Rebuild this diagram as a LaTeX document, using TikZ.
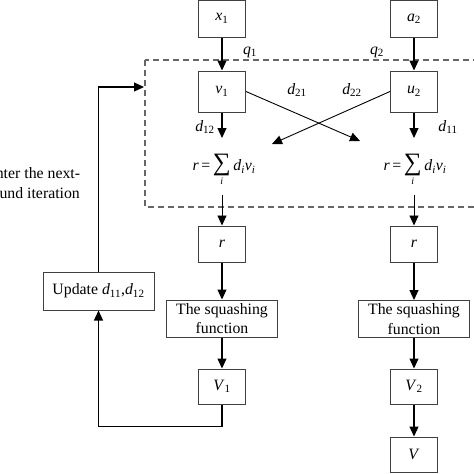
\documentclass[tikz,border=0pt]{standalone}
\usepackage{fix-cm}
\usepackage{fontspec}
\setmainfont{Liberation Serif}
\usetikzlibrary{arrows.meta}

\newcommand{\varsub}[2]{\textit{#1}\textsubscript{#2}}
\newcommand{\sumexpr}{\textit{r}\,=\,$\mathop{\hbox{\fontsize{25}{25}\selectfont\char"2211}}\limits_{\hbox{\itshape\fontsize{10}{10}\selectfont i}}$\,\varsub{d}{\textit{i}}\varsub{v}{\textit{i}}}

\begin{document}
\begin{tikzpicture}[
x=1pt, y=-1pt,
line width=1.2pt,
>={Triangle[length=10pt,width=9pt]},
font=\fontsize{15.8}{19.5}\selectfont,
]
% \draw [help lines] (0,0) grid (474,474);

\tikzset{
	blk/.style={draw=black!75, line width=1pt, minimum width=47pt, minimum height=37pt, inner sep=0pt},
	wide/.style={blk, minimum width=111pt, align=center},
	it/.style={draw=black!60, dash pattern=on 6pt off 4pt, line width=1.2pt},
	fine/.style={->, line width=0.9pt},
}

\clip (0,0) rectangle (474,474);

% iteration loop
\draw[it] (145,60) rectangle (495,207);
\coordinate (in) at (144,87);

\node[blk] (x1) at (222,18.5) {\varsub{x}{1}};
\node[blk] (a2) at (414,18.5) {\varsub{a}{2}};
\node[blk, minimum height=41pt] (v1) at (222,91.5) {\varsub{v}{1}};
\node[blk, minimum height=41pt] (u2) at (414,91.5) {\varsub{u}{2}};
\node (s1) at (224,170) {\sumexpr};
\node (s2) at (415,170) {\sumexpr};
\node[blk, minimum height=36pt] (r1) at (222,244) {\textit{r}};
\node[blk, minimum height=36pt] (r2) at (414,244) {\textit{r}};
\node[wide] (f1) at (222,318.5) {The squashing\\function};
\node[wide] (f2) at (414,319) {The squashing\\function};
\node[blk, minimum height=35pt] (V1) at (222,386.5) {\varsub{V}{1}};
\node[blk, minimum height=35pt] (V2) at (414,386.5) {\varsub{V}{2}};
\node[blk, minimum height=35pt] (V) at (414,454.5) {\textit{V}};
\node[wide, minimum height=38pt] (upd) at (98.5,291) {Update \varsub{d}{11},\varsub{d}{12}};
\node[align=center, anchor=east] (enter) at (84,183) {Enter the next-\\round iteration};

\node (q1) at (250,52) {\varsub{q}{1}};
\node (q2) at (377,52) {\varsub{q}{2}};
\node (d21) at (297,90) {\varsub{d}{21}};
\node (d22) at (352,90) {\varsub{d}{22}};
\node (d12) at (205,127) {\varsub{d}{12}};
\node (d11) at (448,127) {\varsub{d}{11}};

\coordinate (t1) at (222,138);
\coordinate (t2) at (414,138);
\coordinate (c1) at (360,141);
\coordinate (c2) at (272,144);
\coordinate (b1) at (222,195);
\coordinate (b2) at (414,195);

\draw[->] (x1) -- (v1);
\draw[->] (a2) -- (u2);
\draw[->] (v1) -- (t1);
\draw[->] (u2) -- (t2);
\draw[fine] (v1.east) -- (c1);
\draw[fine] (u2.west) -- (c2);
\draw[fine] (b1) -- (r1);
\draw[fine] (b2) -- (r2);
\draw[->] (r1) -- (f1);
\draw[->] (r2) -- (f2);
\draw[->] (f1) -- (V1);
\draw[->] (f2) -- (V2);
\draw[->] (V2) -- (V);

\draw[->] (V1.south) -- ++(0,22) -| (upd.south);
\draw[->] (upd.north) |- (in);

\end{tikzpicture}
\end{document}
